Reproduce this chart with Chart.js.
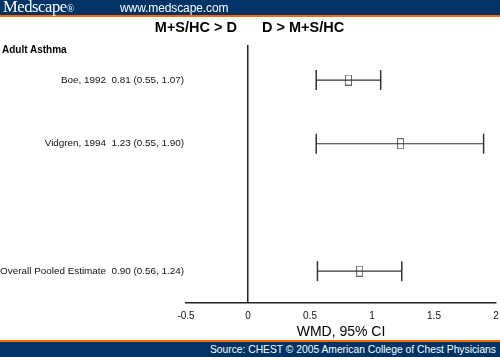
<!DOCTYPE html>
<html>
<head>
<meta charset="utf-8">
<script src="https://cdn.jsdelivr.net/npm/chart.js@4"></script>
<style>
  body { margin: 0; background: #fff; }
  #wrap { position: relative; width: 500px; height: 357px; overflow: hidden; font-family: "Liberation Sans", Arial, sans-serif; }
  #chart { position: absolute; left: 0; top: 0; }
  .abs { position: absolute; white-space: pre; line-height: 1; }
  .bar { position: absolute; left: 0; width: 500px; background: #003366; }
  .orange { position: absolute; left: 0; width: 500px; background: #ff6600; }
</style>
</head>
<body>
<div id="wrap">
  <canvas id="chart" width="500" height="357"></canvas>

  <div class="bar" style="top:0;height:15px"></div>
  <div class="orange" style="top:15px;height:2px"></div>
  <div class="abs" style="left:3px;top:-1px;color:#fff;font-family:'Liberation Serif','Times New Roman',serif;font-size:16.5px;letter-spacing:-0.4px">Medscape<span style="font-size:10px">®</span></div>
  <div class="abs" style="left:120px;top:2px;color:#fff;font-size:12px;letter-spacing:-0.1px">www.medscape.com</div>

  <div class="abs" style="right:263px;top:20px;font-size:14.5px;font-weight:bold;color:#000">M+S/HC &gt; D</div>
  <div class="abs" style="left:262px;top:20px;font-size:14.5px;font-weight:bold;color:#000">D &gt; M+S/HC</div>
  <div class="abs" style="left:2px;top:45px;font-size:10px;font-weight:bold;color:#000">Adult Asthma</div>

  <div class="orange" style="top:340px;height:2px"></div>
  <div class="bar" style="top:342px;height:15px"></div>
  <div class="abs" style="right:4px;top:345px;color:#fff;font-size:10.3px">Source: CHEST © 2005 American College of Chest Physicians</div>
</div>

<script>
// studies, one row each
const studyNames = ['Boe, 1992', 'Vidgren, 1994', 'Overall Pooled Estimate'];
const rowPos = [1, 2, 4];
const estimate = [0.81, 1.23, 0.90];
const lowerCI = [0.55, 0.55, 0.56];
const upperCI = [1.07, 1.90, 1.24];

const xTicks = [-0.5, 0, 0.5, 1, 1.5, 2];
const xTickLabels = ['-0.5', '0', '0.5', '1', '1.5', '2'];
const xTitle = 'WMD, 95% CI';

const rowLabels = studyNames.map((n, i) =>
  n + '  ' + estimate[i].toFixed(2) + ' (' + lowerCI[i].toFixed(2) + ', ' + upperCI[i].toFixed(2) + ')');

Chart.defaults.font.family = '"Liberation Sans", Arial, sans-serif';

// small outlined box for the point estimate
const box = document.createElement('canvas');
box.width = 7;
box.height = 11;
const bctx = box.getContext('2d');
bctx.strokeStyle = '#6a6a6a';
bctx.lineWidth = 1;
bctx.strokeRect(0.5, 0.5, 6, 10);

const datasets = [];
studyNames.forEach((n, i) => {
  // confidence interval with end caps
  datasets.push({
    type: 'line',
    data: [{ x: lowerCI[i], y: rowPos[i] }, { x: upperCI[i], y: rowPos[i] }],
    borderColor: '#333',
    borderWidth: 1.2,
    pointStyle: 'line',
    rotation: 90,
    pointRadius: 10,
    pointBorderColor: '#333',
    pointBorderWidth: 1.5,
    clip: false
  });
  datasets.push({
    type: 'scatter',
    data: [{ x: estimate[i], y: rowPos[i] }],
    pointStyle: box,
    clip: false
  });
});

new Chart(document.getElementById('chart'), {
  type: 'scatter',
  data: { datasets },
  options: {
    responsive: false,
    animation: false,
    events: [],
    layout: { autoPadding: false, padding: { top: 45, right: 4, bottom: 16, left: 0 } },
    plugins: { legend: { display: false }, tooltip: { enabled: false } },
    scales: {
      x: {
        type: 'linear',
        min: -0.5,
        max: 2,
        afterBuildTicks: s => { s.ticks = xTicks.map(v => ({ value: v })); },
        afterFit: s => { s.height = 38; s.paddingLeft = 0; s.paddingRight = 0; },
        grid: {
          drawTicks: false,
          color: c => (c.tick && c.tick.value === 0 ? '#222' : 'rgba(0,0,0,0)'),
          lineWidth: 1.5
        },
        border: { display: true, color: '#222', width: 1.5 },
        ticks: {
          color: '#111',
          font: { size: 10 },
          padding: 7,
          maxRotation: 0,
          callback: v => xTickLabels[xTicks.indexOf(v)]
        },
        title: { display: true, text: xTitle, color: '#000', font: { size: 14 }, padding: 0 }
      },
      y: {
        type: 'linear',
        min: 0.45,
        max: 4.5,
        reverse: true,
        afterBuildTicks: s => { s.ticks = rowPos.map(v => ({ value: v })); },
        afterFit: s => { s.width = 186; },
        grid: { display: false, drawTicks: false, tickLength: 0 },
        border: { display: false },
        ticks: {
          color: '#111',
          font: { size: 9.9 },
          padding: 2,
          autoSkip: false,
          callback: v => rowLabels[rowPos.indexOf(v)]
        }
      }
    }
  }
});
</script>
</body>
</html>
